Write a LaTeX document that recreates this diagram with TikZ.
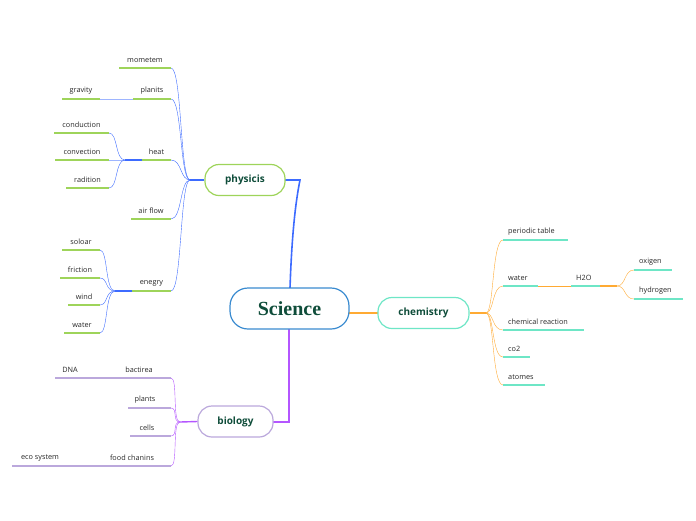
\documentclass[tikz,border=0pt]{standalone}
\usepackage{fontspec}
\setmainfont{Open Sans}
\newfontfamily\titlefont{Liberation Serif}
\definecolor{pblue}{HTML}{3D6BFF}
\definecolor{pgreen}{HTML}{9ED45A}
\definecolor{corange}{HTML}{FFAA33}
\definecolor{caqua}{HTML}{6EE6C6}
\definecolor{bpurp}{HTML}{B456FF}
\definecolor{blav}{HTML}{BBA8DC}
\definecolor{dgreen}{HTML}{0F4D3A}
\definecolor{sblue}{HTML}{3A8BD0}
\tikzset{
 main/.style={draw=#1,line width=1.2pt,rounded corners=14pt,fill=white,minimum height=31pt,text=dgreen,font=\bfseries\fontsize{10}{12}\selectfont},
 lbl/.style={font=\fontsize{7.3}{8}\selectfont,text=black!85,inner sep=1pt},
 ul/.style={line width=1.6pt,#1},
}
\begin{document}
\begin{tikzpicture}[x=1pt,y=-1pt]
\useasboundingbox (0,0) rectangle (696,520);
% main connectors
\draw[pblue,line width=1.6pt] (290,288) .. controls (292,230) and (296,200) .. (300,180) -- (285,180);
\draw[bpurp,line width=1.2pt] (289,329) -- (289,422) -- (273,422);
\draw[corange,line width=1.2pt] (349,313) -- (378,313);
\node[main=sblue,minimum width=119pt,rounded corners=18pt,minimum height=41pt,font=\bfseries\fontsize{20}{22}\selectfont] (sci) at (289.5,308.5) {\titlefont Science};
\node[main=pgreen,minimum width=80pt] (phy) at (245,180) {physicis};
\node[main=caqua,minimum width=91pt] (chem) at (423.5,313) {chemistry};
\node[main=blav,minimum width=75pt] (bio) at (235.5,421.5) {biology};
% physics
\coordinate (ph) at (190,180);
\draw[pblue,line width=1.4pt] (phy.west) -- (ph);
\foreach \y in {68,99,160,219,291}{
 \draw[pblue,thin] (ph) .. controls (180,180) and (182,\y) .. (171,\y);}
\foreach \a/\b/\y/\t/\n in {119/171/68/mometem/m,133/171/99/planits/pl,62/100/99/gravity/g,142/171/160/heat/h,54/109/133/conduction/cd,55/109/160/convection/cv,66/109/188/radition/r,131/171/219/air flow/af,132/171/291/enegry/e,62/100/250/soloar/s,60/100/278/friction/f,68/100/305/wind/w,64/100/333/water/wa}{
 \draw[ul=pgreen] (\a,\y) -- (\b,\y);
 \node[lbl,anchor=south] (\n) at ({(\a+\b)/2},\y-4) {\t};}
\draw[pblue!50,thin] (100,99) -- (133,99);
\draw[pblue,line width=1.4pt] (142,160) -- (125,160);
\draw[pblue!50,thin] (109,160) -- (125,160);
\foreach \y in {133,188}{\draw[pblue,thin] (125,160) .. controls (115,160) and (118,\y) .. (109,\y);}
\draw[pblue,line width=1.4pt] (132,291) -- (115,291);
\foreach \y in {250,278,305,333}{\draw[pblue,thin] (115,291) .. controls (105,291) and (108,\y) .. (100,\y);}
% chemistry
\coordinate (ch) at (486,313);
\draw[corange,line width=1.4pt] (chem.east) -- (ch);
\foreach \y in {240,286,330,357,385}{
 \draw[corange,thin] (ch) .. controls (494,313) and (492,\y) .. (503,\y);}
\foreach \a/\b/\y/\t/\n in {503/568/240/periodic table/pt,503/538/286/water/cw,571/600/286/H2O/ho,634/672/270/oxigen/ox,634/683/299/hydrogen/hy,503/584/330/chemical reaction/cr,503/530/357/co2/co,503/545/385/atomes/at}{
 \draw[ul=caqua] (\a,\y) -- (\b,\y);
 \node[lbl,anchor=south west] (\n) at (\a+4,\y-4) {\t};}
\draw[corange,thin] (538,286) -- (571,286);
\draw[corange,line width=1.2pt] (600,286) -- (617,286);
\foreach \y in {270,299}{\draw[corange,thin] (617,286) .. controls (626,286) and (624,\y) .. (634,\y);}
% biology
\coordinate (bh) at (180,422);
\draw[bpurp,line width=1.4pt] (bio.west) -- (bh);
\foreach \y in {378,408,436,466}{
 \draw[bpurp,thin] (bh) .. controls (172,422) and (178,\y) .. (171,\y);}
\foreach \a/\b/\y/\t/\n in {107/171/378/bactirea/ba,128/171/408/plants/pa,130/171/436/cells/ce,101/171/466/food chanins/fc,55/107/378/DNA/dna,12/101/466/eco system/eco}{
 \draw[ul=blav] (\a,\y) -- (\b,\y);}
\node[lbl,anchor=south] at (139,374) {bactirea};
\node[lbl,anchor=south] at (145,404) {plants};
\node[lbl,anchor=south] at (147,432) {cells};
\node[lbl,anchor=south] at (132,462) {food chanins};
\node[lbl,anchor=south] at (70,374) {DNA};
\node[lbl,anchor=south] at (40,462) {eco system};
\end{tikzpicture}
\end{document}
